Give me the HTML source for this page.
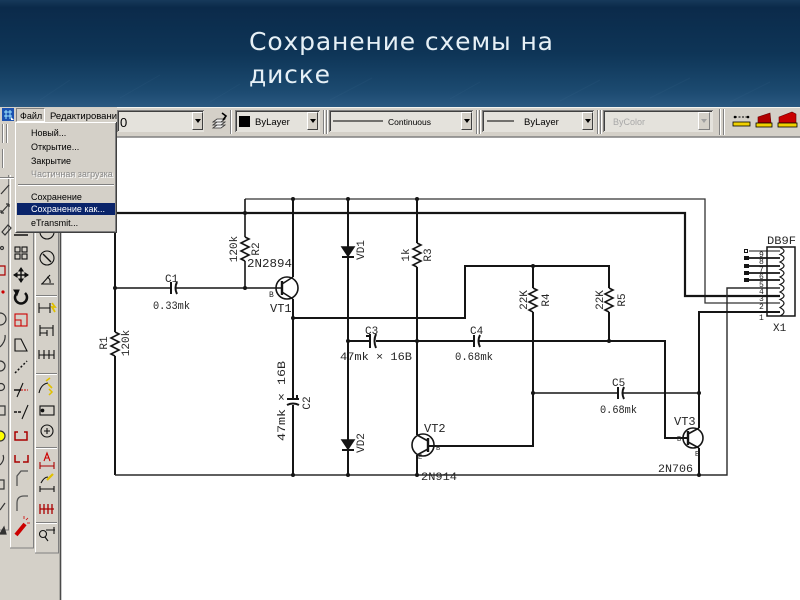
<!DOCTYPE html>
<html><head><meta charset="utf-8"><title>Сохранение схемы на диске</title>
<style>
html,body{margin:0;padding:0;background:#fff;width:800px;height:600px;overflow:hidden;}
svg{display:block;}
</style></head><body>
<svg width="800" height="600" viewBox="0 0 800 600">
<defs>
<linearGradient id="hdr" x1="0" y1="0" x2="0" y2="1">
<stop offset="0" stop-color="#17395a"/>
<stop offset="0.07" stop-color="#0b2a4a"/>
<stop offset="0.5" stop-color="#0e3557"/>
<stop offset="0.85" stop-color="#1c4a70"/>
<stop offset="1" stop-color="#2a5880"/>
</linearGradient>
</defs>

<!-- Header -->
<rect x="0" y="0" width="800" height="107" fill="url(#hdr)"/>
<g stroke="#5a86a8" stroke-width="1" opacity="0.08">
<path d="M40,100 L70,80 M120,98 L160,75 M210,102 L240,84 M330,100 L372,78 M450,99 L480,82 M560,101 L600,80 M650,98 L690,78 M730,102 L770,82"/>
</g>
<text x="249" y="50" font-family="DejaVu Sans, sans-serif" font-size="25" fill="#e6f0f6" textLength="304" lengthAdjust="spacing">Сохранение схемы на</text>
<text x="249" y="83" font-family="DejaVu Sans, sans-serif" font-size="25" fill="#e6f0f6" textLength="81" lengthAdjust="spacing">диске</text>

<!-- Drawing area -->
<rect x="61" y="138" width="739" height="462" fill="#ffffff"/>

<!-- Schematic wires -->
<g fill="none" stroke="#151515" stroke-width="2">
 <path d="M245,199 H705 V303 H780" stroke-width="1.3" stroke="#333"/>
 <path d="M100,213 H685 V296 H780" stroke-width="2.2"/>
 <path d="M115,213 V332 M115,356 V475"/>
 <path d="M115,475 H727 V288 H780" stroke-width="1.4" stroke="#2a2a2a"/>
 <path d="M780,312 H699 V428"/>
 <path d="M699,448 V475"/>
 <path d="M115,288 H171 M176,288 H282" stroke-width="1.6"/>
 <path d="M245,199 V237 M245,261 V288" stroke-width="1.6"/>
 <path d="M293,199 V277 M293,299 V399 M293,405 V475"/>
 <path d="M293,318 H465 V266 H609 V288 M609,312 V341"/>
 <path d="M533,266 V288 M533,312 V446 H428"/>
 <path d="M348,199 V247 M348,257 V440 M348,450 V475"/>
 <path d="M417,199 V243 M417,267 V435 M417,455 V475"/>
 <path d="M348,341 H370 M376,341 H474 M479,341 H665 V438 H688"/>
 <path d="M533,393 H618 M623,393 H699" stroke-width="1.6"/>
</g>

<!-- Resistors -->
<g fill="none" stroke="#151515" stroke-width="1.6">
 <path d="M115,332 l4,2 l-8,4 l8,4 l-8,4 l8,4 l-8,4 l4,2"/>
 <path d="M245,237 l4,2 l-8,4 l8,4 l-8,4 l8,4 l-8,4 l4,2"/>
 <path d="M417,243 l4,2 l-8,4 l8,4 l-8,4 l8,4 l-8,4 l4,2"/>
 <path d="M533,288 l4,2 l-8,4 l8,4 l-8,4 l8,4 l-8,4 l4,2"/>
 <path d="M609,288 l4,2 l-8,4 l8,4 l-8,4 l8,4 l-8,4 l4,2"/>
</g>

<!-- Capacitors -->
<g fill="none" stroke="#151515" stroke-width="2">
 <path d="M171,282 V294 M177,282 Q174,288 177,294"/>
 <path d="M370,334 V348 M376,334 Q373,341 376,348 M366,336 h3"/>
 <path d="M474,335 V347 M480,335 Q477,341 480,347"/>
 <path d="M618,387 V399 M624,387 Q621,393 624,399"/>
 <path d="M287,399 H299 M287,405 Q293,402 299,405 M297,395 v3"/>
</g>

<!-- Diodes -->
<g fill="#151515" stroke="#151515" stroke-width="1.5">
 <polygon points="342,247 354,247 348,256"/>
 <path d="M342,257 H354" fill="none" stroke-width="2"/>
 <polygon points="342,440 354,440 348,449"/>
 <path d="M342,450 H354" fill="none" stroke-width="2"/>
</g>

<!-- Transistors -->
<g fill="none" stroke="#151515" stroke-width="1.6">
 <circle cx="287" cy="288" r="11"/>
 <path d="M282,281 V295" stroke-width="2.4"/>
 <path d="M282,284 L293,277 M282,292 L293,299"/>
 <circle cx="423" cy="445" r="11"/>
 <path d="M428,438 V452" stroke-width="2.4"/>
 <path d="M428,441 L417,435 M428,449 L417,455"/>
 <circle cx="693" cy="438" r="10"/>
 <path d="M688,431 V445" stroke-width="2.4"/>
 <path d="M688,434 L699,428 M688,442 L699,448"/>
</g>

<!-- Junction dots -->
<g fill="#151515">
 <circle cx="115" cy="288" r="2"/><circle cx="245" cy="213" r="2"/><circle cx="245" cy="288" r="2"/>
 <circle cx="293" cy="199" r="2"/><circle cx="348" cy="199" r="2"/><circle cx="417" cy="199" r="2"/>
 <circle cx="293" cy="318" r="2"/><circle cx="348" cy="341" r="2"/><circle cx="417" cy="341" r="2"/>
 <circle cx="533" cy="266" r="2"/><circle cx="609" cy="341" r="2"/><circle cx="533" cy="393" r="2"/>
 <circle cx="699" cy="393" r="2"/><circle cx="293" cy="475" r="2"/><circle cx="348" cy="475" r="2"/>
 <circle cx="417" cy="475" r="2"/><circle cx="699" cy="475" r="2"/>
</g>

<!-- Connector DB9F -->
<g fill="none" stroke="#151515">
 <rect x="767" y="247" width="28" height="69" stroke-width="1.5"/>
 <path d="M780,247.5 Q788,251 780,254.5 Q788,258 780,262 Q788,266 780,269.5 Q788,273 780,277 Q788,281 780,284.5 Q788,288 780,292 Q788,296 780,299.5 Q788,303 780,307.5 Q788,312 780,316" stroke-width="1.2"/>
 <path d="M749,251 H780" stroke-width="1"/>
 <path d="M749,258 H780 M749,266 H780 M749,273 H780 M749,280 H780" stroke-width="1.8"/>
 <rect x="744.5" y="249.5" width="3" height="3" stroke-width="1"/>
</g>
<g fill="#151515">
 <rect x="744" y="256" width="5" height="4"/><rect x="744" y="264" width="5" height="4"/>
 <rect x="744" y="271" width="5" height="4"/><rect x="744" y="278" width="5" height="4"/>
</g>
<g font-family="Liberation Mono, monospace" font-size="8" fill="#222">
 <text x="759" y="257">9</text><text x="759" y="264">8</text><text x="759" y="272">7</text>
 <text x="759" y="279">6</text><text x="759" y="287">5</text><text x="759" y="294">4</text>
 <text x="759" y="301">3</text><text x="759" y="309">2</text><text x="759" y="320">1</text>
</g>

<!-- Schematic labels -->
<g font-family="Liberation Mono, monospace" font-size="11" fill="#262626">
 <text x="165" y="282">C1</text>
 <text x="153" y="309" textLength="37" lengthAdjust="spacingAndGlyphs">0.33mk</text>
 <text transform="translate(105,343) rotate(-90)" text-anchor="middle" dominant-baseline="central">R1</text>
 <text transform="translate(127,343) rotate(-90)" text-anchor="middle" dominant-baseline="central">120k</text>
 <text transform="translate(235,249) rotate(-90)" text-anchor="middle" dominant-baseline="central">120k</text>
 <text transform="translate(257,249) rotate(-90)" text-anchor="middle" dominant-baseline="central">R2</text>
 <text x="247" y="267" font-size="12" textLength="45" lengthAdjust="spacingAndGlyphs">2N2894</text>
 <text x="269" y="297" font-size="8">B</text>
 <text x="270" y="312" font-size="12">VT1</text>
 <text transform="translate(362,250) rotate(-90)" text-anchor="middle" dominant-baseline="central">VD1</text>
 <text transform="translate(407,255) rotate(-90)" text-anchor="middle" dominant-baseline="central">1k</text>
 <text transform="translate(429,255) rotate(-90)" text-anchor="middle" dominant-baseline="central">R3</text>
 <text x="365" y="334">C3</text>
 <text x="340" y="360" textLength="72" lengthAdjust="spacingAndGlyphs">47mk × 16В</text>
 <text x="470" y="334">C4</text>
 <text x="455" y="360" textLength="38" lengthAdjust="spacingAndGlyphs">0.68mk</text>
 <text transform="translate(525,300) rotate(-90)" text-anchor="middle" dominant-baseline="central">22K</text>
 <text transform="translate(547,300) rotate(-90)" text-anchor="middle" dominant-baseline="central">R4</text>
 <text transform="translate(601,300) rotate(-90)" text-anchor="middle" dominant-baseline="central">22K</text>
 <text transform="translate(623,300) rotate(-90)" text-anchor="middle" dominant-baseline="central">R5</text>
 <text x="612" y="386">C5</text>
 <text x="600" y="413" textLength="37" lengthAdjust="spacingAndGlyphs">0.68mk</text>
 <text transform="translate(283,401) rotate(-90)" text-anchor="middle" dominant-baseline="central" textLength="80" lengthAdjust="spacingAndGlyphs">47mk × 16В</text>
 <text transform="translate(308,403) rotate(-90)" text-anchor="middle" dominant-baseline="central">C2</text>
 <text transform="translate(362,443) rotate(-90)" text-anchor="middle" dominant-baseline="central">VD2</text>
 <text x="424" y="432" font-size="12">VT2</text>
 <text x="436" y="450" font-size="7">B</text>
 <text x="418" y="459" font-size="7">E</text>
 <text x="421" y="480" textLength="36" lengthAdjust="spacingAndGlyphs">2N914</text>
 <text x="674" y="425" font-size="12">VT3</text>
 <text x="677" y="441" font-size="7">B</text>
 <text x="695" y="456" font-size="7">E</text>
 <text x="658" y="472" textLength="35" lengthAdjust="spacingAndGlyphs">2N706</text>
 <text x="767" y="244" textLength="29" lengthAdjust="spacingAndGlyphs">DB9F</text>
 <text x="773" y="331">X1</text>
</g>

<!-- Top toolbar -->
<rect x="0" y="107" width="800" height="30" fill="#d4d0c8"/>
<line x1="0" y1="107.5" x2="800" y2="107.5" stroke="#f4f4f0"/>
<line x1="61" y1="137" x2="800" y2="137" stroke="#808080" stroke-width="1.5"/>

<!-- Combos -->
<g>
 <rect x="117" y="110" width="87" height="22" fill="#e4e2dc"/>
 <path d="M117.5,132 V110.5 H204" fill="none" stroke="#808080"/>
 <path d="M118.5,131 V111.5 H203" fill="none" stroke="#404040"/>
 <rect x="192" y="112" width="11" height="18" fill="#d4d0c8"/>
 <path d="M192.5,130 V112.5 H203" fill="none" stroke="#fff"/>
 <path d="M192.5,129.5 H202.5 V112.5" fill="none" stroke="#404040"/>
 <polygon points="195,119 201,119 198,123" fill="#000"/>
 <text x="120" y="127" font-family="Liberation Sans, sans-serif" font-size="13" fill="#000">0</text>
 <path d="M213,122 l4,-3 h8 l-4,3 z M213,125 l4,-3 h8 l-4,3 z M213,128 l4,-3 h8 l-4,3 z" fill="#f0f0f0" stroke="#333" stroke-width="0.8"/>
 <path d="M222,113 l4,3 l-3,4" fill="none" stroke="#000" stroke-width="1.6"/>
 <path d="M230.5,110 V134" stroke="#808080"/><path d="M231.5,110 V134" stroke="#fff"/>
 <rect x="235" y="110" width="85" height="22" fill="#e4e2dc"/>
 <path d="M235.5,132 V110.5 H320" fill="none" stroke="#808080"/>
 <path d="M236.5,131 V111.5 H319" fill="none" stroke="#404040"/>
 <rect x="239" y="116" width="11" height="11" fill="#000"/>
 <text x="255" y="125" font-family="Liberation Sans, sans-serif" font-size="9.5" fill="#000">ByLayer</text>
 <rect x="307" y="112" width="11" height="18" fill="#d4d0c8"/>
 <path d="M307.5,130 V112.5 H318" fill="none" stroke="#fff"/>
 <path d="M307.5,129.5 H317.5 V112.5" fill="none" stroke="#404040"/>
 <polygon points="310,119 316,119 313,123" fill="#000"/>
 <path d="M323.5,110 V134 M326.5,110 V134" stroke="#808080"/><path d="M324.5,110 V134 M327.5,110 V134" stroke="#fff"/>
 <rect x="329" y="110" width="144" height="22" fill="#e4e2dc"/>
 <path d="M329.5,132 V110.5 H473" fill="none" stroke="#808080"/>
 <path d="M330.5,131 V111.5 H472" fill="none" stroke="#404040"/>
 <line x1="333" y1="121" x2="383" y2="121" stroke="#000"/>
 <text x="388" y="125" font-family="Liberation Sans, sans-serif" font-size="8.5" fill="#000">Continuous</text>
 <rect x="461" y="112" width="11" height="18" fill="#d4d0c8"/>
 <path d="M461.5,130 V112.5 H472" fill="none" stroke="#fff"/>
 <path d="M461.5,129.5 H471.5 V112.5" fill="none" stroke="#404040"/>
 <polygon points="464,119 470,119 467,123" fill="#000"/>
 <path d="M476.5,110 V134 M479.5,110 V134" stroke="#808080"/><path d="M477.5,110 V134 M480.5,110 V134" stroke="#fff"/>
 <rect x="482" y="110" width="112" height="22" fill="#e4e2dc"/>
 <path d="M482.5,132 V110.5 H594" fill="none" stroke="#808080"/>
 <path d="M483.5,131 V111.5 H593" fill="none" stroke="#404040"/>
 <line x1="487" y1="121" x2="514" y2="121" stroke="#000"/>
 <text x="524" y="125" font-family="Liberation Sans, sans-serif" font-size="9.5" fill="#000">ByLayer</text>
 <rect x="582" y="112" width="11" height="18" fill="#d4d0c8"/>
 <path d="M582.5,130 V112.5 H593" fill="none" stroke="#fff"/>
 <path d="M582.5,129.5 H592.5 V112.5" fill="none" stroke="#404040"/>
 <polygon points="585,119 591,119 588,123" fill="#000"/>
 <path d="M597.5,110 V134 M600.5,110 V134" stroke="#808080"/><path d="M598.5,110 V134 M601.5,110 V134" stroke="#fff"/>
 <rect x="603" y="110" width="110" height="22" fill="#e4e2dc"/>
 <path d="M603.5,132 V110.5 H713" fill="none" stroke="#808080"/>
 <path d="M604.5,131 V111.5 H712" fill="none" stroke="#404040"/>
 <text x="613" y="125" font-family="Liberation Sans, sans-serif" font-size="9" fill="#a8a8a8">ByColor</text>
 <rect x="698" y="112" width="12" height="18" fill="#d4d0c8"/>
 <path d="M698.5,130 V112.5 H710" fill="none" stroke="#fff"/>
 <path d="M698.5,129.5 H709.5 V112.5" fill="none" stroke="#808080"/>
 <polygon points="701,119 707,119 704,123" fill="#a0a0a0"/>
 <path d="M719.5,109 V135 M723.5,109 V135" stroke="#808080"/><path d="M720.5,109 V135 M724.5,109 V135" stroke="#fff"/>
 <path d="M735,117 H748" stroke="#000" stroke-dasharray="2,1.5"/>
 <circle cx="735" cy="117" r="1.3" fill="#000"/><circle cx="748" cy="117" r="1.3" fill="#000"/>
 <rect x="733" y="122" width="17" height="4" fill="#f0d000" stroke="#000" stroke-width="0.8"/>
 <polygon points="758,117 770,113 771,123 758,123" fill="#b00000" stroke="#600" stroke-width="0.6"/>
 <rect x="756" y="123" width="16" height="4" fill="#f0d000" stroke="#000" stroke-width="0.8"/>
 <polygon points="779,117 792,112 796,114 796,123 779,123" fill="#c80000" stroke="#600" stroke-width="0.6"/>
 <rect x="778" y="123" width="19" height="4" fill="#f0d000" stroke="#000" stroke-width="0.8"/>
</g>

<!-- Left toolbar area -->
<rect x="0" y="122" width="60" height="478" fill="#d4d0c8"/>
<line x1="60.5" y1="137" x2="60.5" y2="600" stroke="#4a4a4a" stroke-width="1.6"/>
<g fill="none">
 <path d="M8.5,175 V530 H0" stroke="#808080"/>
 <path d="M10.5,548 V175" stroke="#fff"/><path d="M33.5,175 V548 H10" stroke="#808080"/>
 <path d="M35.5,553 V175" stroke="#fff"/><path d="M58.5,175 V553 H35" stroke="#808080"/>
 <path d="M36,295.5 H57 M36,373.5 H57 M36,447.5 H57 M36,522.5 H57" stroke="#808080"/>
 <path d="M36,296.5 H57 M36,374.5 H57 M36,448.5 H57 M36,523.5 H57" stroke="#fff"/>
 <path d="M2.5,124 V143 M6.5,124 V143 M2.5,149 V168" stroke="#808080"/>
 <path d="M3.5,124 V143 M7.5,124 V143 M3.5,149 V168" stroke="#fff"/>
 <path d="M0,177.5 H14" stroke="#808080"/><path d="M0,178.5 H14" stroke="#fff"/>
</g>
<g fill="none" stroke="#333" stroke-width="1.2">
 <path d="M1,194 L9,185"/>
 <path d="M1,213 L9,204 M1,213 l3,0 M1,213 l0,-3 M9,204 l-3,0 M9,204 l0,3"/>
 <path d="M2,232 L8,225 L11,228 L5,235 Z"/>
 <circle cx="2" cy="248" r="1.5"/>
 <path d="M0,266 H5 V275 H0" stroke="#a00"/>
 <circle cx="3" cy="292" r="1" fill="#c00" stroke="#c00"/>
 <path d="M0,313 A6,6 0 0 1 6,319 A6,6 0 0 1 0,325"/>
 <path d="M0,347 Q6,341 5,335"/>
 <circle cx="0" cy="366" r="5"/>
 <circle cx="1" cy="387" r="3.5"/>
 <rect x="-2" y="406" width="7" height="9"/>
 <circle cx="0" cy="436" r="5" fill="#ff0"/>
 <path d="M0,465 Q5,460 3,455"/>
 <rect x="-2" y="480" width="6" height="9"/>
 <path d="M0,510 L5,503"/>
 <path d="M0,534 L4,527 L6,534 Z" fill="#333"/>
</g>
<g fill="none" stroke="#111" stroke-width="1.1">
 <path d="M14,235 H28" stroke-width="1.5"/>
 <rect x="15" y="247" width="5" height="5"/><rect x="22" y="247" width="5" height="5"/>
 <rect x="15" y="254" width="5" height="5"/><rect x="22" y="254" width="5" height="5"/>
 <path d="M14,275 H28 M21,268 V282" stroke-width="1.4"/>
 <path d="M14,275 l3,-2 v4 z M28,275 l-3,-2 v4 z M21,268 l-2,3 h4 z M21,282 l-2,-3 h4 z" fill="#111"/>
 <path d="M25,293 A6,6 0 1 1 17,293" stroke-width="2.5"/>
 <path d="M14,290 l5,0 l-2,5 z" fill="#111"/>
 <rect x="15" y="314" width="12" height="12" stroke="#c00"/>
 <path d="M15,320 H21 V326" stroke="#c00"/>
 <path d="M15,351 V339 H21 L27,351 Z"/>
 <path d="M15,373 L27,361" stroke-dasharray="2,2" stroke-width="1.5"/>
 <path d="M14,390 H21" stroke-width="1.5"/><path d="M21,390 H28" stroke="#c00" stroke-dasharray="2,1"/>
 <path d="M17,397 L23,383"/>
 <path d="M14,412 H22" stroke-dasharray="3,1" stroke-width="1.5"/><path d="M22,419 L28,405"/>
 <path d="M18,432 H15 V440 H27 V432 H24" stroke="#a00" stroke-width="1.5"/>
 <path d="M15,455 V462 H20 M23,462 H28 V455" stroke="#a00" stroke-width="1.5"/>
 <path d="M17,486 V476 L21,471 H28" stroke="#555" stroke-width="1.3"/>
 <path d="M17,511 V503 Q17,496 24,496 H28" stroke="#555" stroke-width="1.3"/>
 <path d="M16,535 L25,524" stroke="#c00" stroke-width="4"/>
 <path d="M26,520 l2,-2 M27,523 l3,0 M24,519 l0,-3" stroke="#c00" stroke-width="0.8"/>
</g>
<g fill="none" stroke="#111" stroke-width="1.1">
 <path d="M40,232 A7,7 0 0 0 54,232"/>
 <circle cx="47" cy="258" r="7"/><path d="M43,254 L51,262" stroke-width="1.4"/>
 <path d="M41,284 H54 M42,284 L50,275 M47,277 a5,5 0 0 1 3,6"/>
 <path d="M39,303 V313 M39,308 H50 M50,303 V313"/>
 <path d="M52,303 l3,4 l-3,0 l3,5" stroke="#e0c000" stroke-width="1.8"/>
 <path d="M40,325 V336 M40,328 H53 M53,325 V336 M40,333 H47 M47,330 V336"/>
 <path d="M39,350 V359 M39,355 H54 M44,350 V359 M49,350 V359 M54,350 V359"/>
 <path d="M39,393 Q41,384 48,383" /><path d="M46,381 l4,-3 M48,384 l4,4" stroke="#e0c000" stroke-width="1.6"/>
 <path d="M49,389 l3,3 l-3,3" stroke="#e0c000" stroke-width="1.5"/>
 <rect x="40" y="406" width="14" height="9"/>
 <circle cx="42.5" cy="410.5" r="1.3" fill="#111"/>
 <circle cx="47" cy="431" r="6"/><path d="M44,431 H50 M47,428 V434"/>
 <path d="M40,462 V469 M40,466 H54 M54,462 V469" stroke="#a00"/>
 <path d="M44,461 L47,453 L50,461 M45,458 H49" stroke="#c00"/>
 <path d="M40,486 V492 M40,489 H54 M54,486 V492 M41,483 Q44,477 48,477"/>
 <path d="M47,480 L53,474" stroke="#e0c000" stroke-width="2.2"/>
 <path d="M40,504 V514 M44,504 V514 M48,504 V514 M40,509 H54 M52,504 V514" stroke="#a00" stroke-width="1.3"/>
 <circle cx="43" cy="534" r="3.5"/><path d="M45,537 L48,541 M46,530 H55 M54,527 V534"/>
</g>

<!-- Menu bar -->
<rect x="0" y="107" width="117" height="15" fill="#d4d0c8"/>
<rect x="2" y="108" width="12" height="13" fill="#1c52b0"/>
<path d="M4,112 H12 M4,116 H12 M6,110 V119 M10,110 V119" stroke="#9ee6ff" stroke-width="1"/>
<path d="M11,117 l3,3 l-3,0 z" fill="#fff"/>
<path d="M16.5,122 V108.5 H45" fill="none" stroke="#808080"/>
<path d="M16.5,121.5 H44.5 V108.5" fill="none" stroke="#fff"/>
<text x="20" y="119" font-family="Liberation Sans, sans-serif" font-size="9" fill="#000">Файл</text>
<text x="50" y="119" font-family="Liberation Sans, sans-serif" font-size="9" fill="#000" textLength="67" lengthAdjust="spacingAndGlyphs">Редактировани</text>

<!-- Dropdown menu -->
<rect x="15" y="122" width="102" height="111" fill="#d4d0c8"/>
<path d="M15.5,233 V122.5 H117" fill="none" stroke="#fff"/>
<path d="M15.5,232.5 H116.5 V122" fill="none" stroke="#404040"/>
<path d="M16.5,231.5 H115.5 V123" fill="none" stroke="#808080"/>
<g font-family="Liberation Sans, sans-serif" font-size="9" fill="#000">
 <text x="31" y="136">Новый...</text>
 <text x="31" y="150">Открытие...</text>
 <text x="31" y="164">Закрытие</text>
 <text x="32" y="178" fill="#fff">Частичная загрузка</text>
 <text x="31" y="177" fill="#8a8a8a">Частичная загрузка</text>
 <text x="31" y="200">Сохранение</text>
</g>
<path d="M18,184.5 H114" stroke="#808080"/><path d="M18,185.5 H114" stroke="#fff"/>
<rect x="17" y="203" width="98" height="12" fill="#0a246a"/>
<text x="31" y="212" font-family="Liberation Sans, sans-serif" font-size="9" fill="#fff">Сохранение как...</text>
<text x="31" y="226" font-family="Liberation Sans, sans-serif" font-size="9" fill="#000">eTransmit...</text>
</svg>
</body></html>
